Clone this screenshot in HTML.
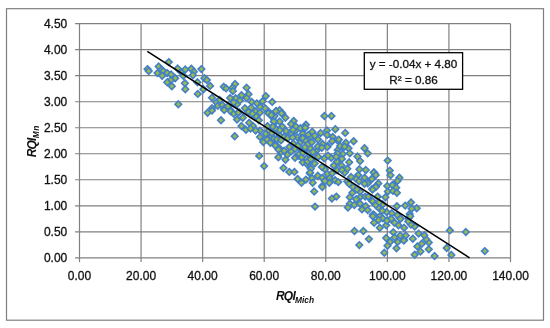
<!DOCTYPE html>
<html><head><meta charset="utf-8"><title>RQI chart</title>
<style>
html,body{margin:0;padding:0;background:#fff;}
body{width:550px;height:328px;overflow:hidden;}
svg{display:block;font-family:"Liberation Sans",sans-serif;}
.lbl{font-size:12px;fill:#111;stroke:#111;stroke-width:0.3px;}
.ttl{font-size:12px;font-weight:bold;font-style:italic;fill:#111;letter-spacing:-0.8px;}
.sub{font-size:8.4px;letter-spacing:0;}
.eq{font-size:11.7px;fill:#111;stroke:#111;stroke-width:0.3px;}
</style></head><body>
<svg width="550" height="328" viewBox="0 0 550 328">
<rect x="0" y="0" width="550" height="328" fill="#ffffff"/>
<rect x="6.5" y="8.7" width="537" height="311.5" fill="none" stroke="#7f7f7f" stroke-width="1.2"/>

<g stroke="#808080" stroke-width="1.2" fill="none">
<line x1="75.10" y1="23.70" x2="510.50" y2="23.70"/>
<line x1="75.10" y1="49.71" x2="510.50" y2="49.71"/>
<line x1="75.10" y1="75.72" x2="510.50" y2="75.72"/>
<line x1="75.10" y1="101.73" x2="510.50" y2="101.73"/>
<line x1="75.10" y1="127.74" x2="510.50" y2="127.74"/>
<line x1="75.10" y1="153.76" x2="510.50" y2="153.76"/>
<line x1="75.10" y1="179.77" x2="510.50" y2="179.77"/>
<line x1="75.10" y1="205.78" x2="510.50" y2="205.78"/>
<line x1="75.10" y1="231.79" x2="510.50" y2="231.79"/>
<line x1="75.10" y1="257.80" x2="510.50" y2="257.80"/>
<line x1="79.50" y1="23.70" x2="79.50" y2="262.10"/>
<line x1="141.07" y1="23.70" x2="141.07" y2="262.10"/>
<line x1="202.64" y1="23.70" x2="202.64" y2="262.10"/>
<line x1="264.21" y1="23.70" x2="264.21" y2="262.10"/>
<line x1="325.79" y1="23.70" x2="325.79" y2="262.10"/>
<line x1="387.36" y1="23.70" x2="387.36" y2="262.10"/>
<line x1="448.93" y1="23.70" x2="448.93" y2="262.10"/>
<line x1="510.50" y1="23.70" x2="510.50" y2="262.10"/>
</g>
<text class="lbl" x="67.3" y="27.90" text-anchor="end">4.50</text>
<text class="lbl" x="67.3" y="53.91" text-anchor="end">4.00</text>
<text class="lbl" x="67.3" y="79.92" text-anchor="end">3.50</text>
<text class="lbl" x="67.3" y="105.93" text-anchor="end">3.00</text>
<text class="lbl" x="67.3" y="131.94" text-anchor="end">2.50</text>
<text class="lbl" x="67.3" y="157.96" text-anchor="end">2.00</text>
<text class="lbl" x="67.3" y="183.97" text-anchor="end">1.50</text>
<text class="lbl" x="67.3" y="209.98" text-anchor="end">1.00</text>
<text class="lbl" x="67.3" y="235.99" text-anchor="end">0.50</text>
<text class="lbl" x="67.3" y="262.00" text-anchor="end">0.00</text>
<text class="lbl" x="79.50" y="279.6" text-anchor="middle">0.00</text>
<text class="lbl" x="141.07" y="279.6" text-anchor="middle">20.00</text>
<text class="lbl" x="202.64" y="279.6" text-anchor="middle">40.00</text>
<text class="lbl" x="264.21" y="279.6" text-anchor="middle">60.00</text>
<text class="lbl" x="325.79" y="279.6" text-anchor="middle">80.00</text>
<text class="lbl" x="387.36" y="279.6" text-anchor="middle">100.00</text>
<text class="lbl" x="448.93" y="279.6" text-anchor="middle">120.00</text>
<text class="lbl" x="510.50" y="279.6" text-anchor="middle">140.00</text>
<defs><path id="m" d="M0,-3.3L3.3,0L0,3.3L-3.3,0Z"/></defs>
<g fill="#96bb4e" stroke="#437fc6" stroke-width="1.6">
<use href="#m" x="147.5" y="69.1"/>
<use href="#m" x="148.7" y="71.1"/>
<use href="#m" x="158.7" y="66.5"/>
<use href="#m" x="157.5" y="73.1"/>
<use href="#m" x="161.6" y="69.5"/>
<use href="#m" x="163.2" y="71.1"/>
<use href="#m" x="162.2" y="75.8"/>
<use href="#m" x="168.8" y="62.1"/>
<use href="#m" x="167.2" y="73.1"/>
<use href="#m" x="171.2" y="74.5"/>
<use href="#m" x="175.2" y="78.2"/>
<use href="#m" x="170.8" y="80.2"/>
<use href="#m" x="167.2" y="82.2"/>
<use href="#m" x="171.8" y="86.2"/>
<use href="#m" x="177.7" y="68.5"/>
<use href="#m" x="181.7" y="72.5"/>
<use href="#m" x="183.3" y="75.8"/>
<use href="#m" x="185.3" y="69.5"/>
<use href="#m" x="191.3" y="68.7"/>
<use href="#m" x="193.8" y="71.7"/>
<use href="#m" x="192.9" y="75.2"/>
<use href="#m" x="201.4" y="69.1"/>
<use href="#m" x="184.9" y="83.2"/>
<use href="#m" x="185.3" y="89.2"/>
<use href="#m" x="197.4" y="82.2"/>
<use href="#m" x="197.8" y="93.9"/>
<use href="#m" x="204.4" y="78.2"/>
<use href="#m" x="178.3" y="104.3"/>
<use href="#m" x="206.9" y="80.1"/>
<use href="#m" x="210.1" y="85.9"/>
<use href="#m" x="223.8" y="86.8"/>
<use href="#m" x="226.1" y="88.4"/>
<use href="#m" x="235.1" y="84.0"/>
<use href="#m" x="232.5" y="87.8"/>
<use href="#m" x="232.9" y="91.0"/>
<use href="#m" x="246.6" y="87.8"/>
<use href="#m" x="241.5" y="95.2"/>
<use href="#m" x="248.5" y="94.2"/>
<use href="#m" x="246.6" y="98.0"/>
<use href="#m" x="235.7" y="98.3"/>
<use href="#m" x="230.2" y="98.0"/>
<use href="#m" x="212.0" y="97.8"/>
<use href="#m" x="203.4" y="89.2"/>
<use href="#m" x="216.5" y="102.5"/>
<use href="#m" x="217.8" y="105.7"/>
<use href="#m" x="212.0" y="108.3"/>
<use href="#m" x="207.6" y="112.8"/>
<use href="#m" x="222.3" y="105.1"/>
<use href="#m" x="224.0" y="108.9"/>
<use href="#m" x="230.0" y="109.6"/>
<use href="#m" x="237.0" y="104.2"/>
<use href="#m" x="239.0" y="112.1"/>
<use href="#m" x="245.0" y="108.3"/>
<use href="#m" x="248.5" y="111.5"/>
<use href="#m" x="251.1" y="107.7"/>
<use href="#m" x="251.7" y="101.9"/>
<use href="#m" x="256.9" y="103.4"/>
<use href="#m" x="260.1" y="107.0"/>
<use href="#m" x="262.6" y="101.2"/>
<use href="#m" x="265.8" y="96.1"/>
<use href="#m" x="265.2" y="108.3"/>
<use href="#m" x="272.2" y="101.9"/>
<use href="#m" x="255.6" y="111.5"/>
<use href="#m" x="269.0" y="112.1"/>
<use href="#m" x="212.0" y="110.6"/>
<use href="#m" x="221.0" y="120.2"/>
<use href="#m" x="234.7" y="136.2"/>
<use href="#m" x="224.2" y="110.0"/>
<use href="#m" x="230.6" y="111.3"/>
<use href="#m" x="233.8" y="113.8"/>
<use href="#m" x="238.3" y="112.6"/>
<use href="#m" x="242.8" y="117.7"/>
<use href="#m" x="237.0" y="119.6"/>
<use href="#m" x="241.5" y="126.0"/>
<use href="#m" x="246.0" y="129.8"/>
<use href="#m" x="249.2" y="122.8"/>
<use href="#m" x="253.0" y="126.0"/>
<use href="#m" x="250.5" y="128.6"/>
<use href="#m" x="256.2" y="116.4"/>
<use href="#m" x="258.8" y="120.2"/>
<use href="#m" x="248.5" y="111.9"/>
<use href="#m" x="252.4" y="113.8"/>
<use href="#m" x="260.0" y="112.6"/>
<use href="#m" x="268.4" y="113.2"/>
<use href="#m" x="272.9" y="117.7"/>
<use href="#m" x="274.8" y="122.2"/>
<use href="#m" x="260.0" y="130.5"/>
<use href="#m" x="265.8" y="133.7"/>
<use href="#m" x="260.0" y="136.9"/>
<use href="#m" x="263.3" y="142.0"/>
<use href="#m" x="267.1" y="139.5"/>
<use href="#m" x="271.6" y="136.2"/>
<use href="#m" x="272.9" y="141.4"/>
<use href="#m" x="274.8" y="144.6"/>
<use href="#m" x="269.0" y="130.5"/>
<use href="#m" x="255.6" y="130.5"/>
<use href="#m" x="276.4" y="111.1"/>
<use href="#m" x="279.6" y="110.2"/>
<use href="#m" x="282.2" y="113.2"/>
<use href="#m" x="274.5" y="116.0"/>
<use href="#m" x="324.4" y="116.0"/>
<use href="#m" x="331.5" y="116.0"/>
<use href="#m" x="275.8" y="111.3"/>
<use href="#m" x="281.5" y="113.2"/>
<use href="#m" x="285.4" y="117.7"/>
<use href="#m" x="293.7" y="120.9"/>
<use href="#m" x="291.1" y="124.1"/>
<use href="#m" x="305.9" y="124.7"/>
<use href="#m" x="304.6" y="128.6"/>
<use href="#m" x="312.3" y="131.8"/>
<use href="#m" x="320.6" y="133.0"/>
<use href="#m" x="327.0" y="130.5"/>
<use href="#m" x="335.3" y="129.2"/>
<use href="#m" x="332.7" y="136.9"/>
<use href="#m" x="337.9" y="140.7"/>
<use href="#m" x="327.6" y="145.9"/>
<use href="#m" x="322.5" y="143.9"/>
<use href="#m" x="318.0" y="139.4"/>
<use href="#m" x="311.0" y="137.5"/>
<use href="#m" x="309.7" y="148.4"/>
<use href="#m" x="300.7" y="142.0"/>
<use href="#m" x="297.5" y="137.5"/>
<use href="#m" x="302.7" y="133.7"/>
<use href="#m" x="295.6" y="130.5"/>
<use href="#m" x="291.8" y="133.7"/>
<use href="#m" x="286.0" y="131.1"/>
<use href="#m" x="282.2" y="126.6"/>
<use href="#m" x="279.6" y="121.5"/>
<use href="#m" x="273.8" y="121.5"/>
<use href="#m" x="276.4" y="129.2"/>
<use href="#m" x="271.9" y="133.0"/>
<use href="#m" x="279.6" y="135.0"/>
<use href="#m" x="284.1" y="136.9"/>
<use href="#m" x="273.8" y="138.8"/>
<use href="#m" x="275.1" y="143.9"/>
<use href="#m" x="279.6" y="148.4"/>
<use href="#m" x="271.3" y="115.1"/>
<use href="#m" x="272.6" y="126.6"/>
<use href="#m" x="259.2" y="155.9"/>
<use href="#m" x="264.1" y="166.1"/>
<use href="#m" x="278.4" y="157.2"/>
<use href="#m" x="285.5" y="159.7"/>
<use href="#m" x="283.5" y="168.0"/>
<use href="#m" x="289.3" y="171.9"/>
<use href="#m" x="294.4" y="171.9"/>
<use href="#m" x="297.6" y="178.9"/>
<use href="#m" x="301.5" y="182.8"/>
<use href="#m" x="305.9" y="179.6"/>
<use href="#m" x="309.8" y="173.2"/>
<use href="#m" x="302.7" y="162.3"/>
<use href="#m" x="307.2" y="164.2"/>
<use href="#m" x="295.1" y="157.8"/>
<use href="#m" x="298.9" y="155.9"/>
<use href="#m" x="287.4" y="154.6"/>
<use href="#m" x="281.0" y="152.0"/>
<use href="#m" x="278.4" y="149.5"/>
<use href="#m" x="275.2" y="145.6"/>
<use href="#m" x="284.2" y="150.8"/>
<use href="#m" x="291.2" y="151.4"/>
<use href="#m" x="289.3" y="146.9"/>
<use href="#m" x="295.1" y="148.8"/>
<use href="#m" x="306.6" y="147.6"/>
<use href="#m" x="309.8" y="152.0"/>
<use href="#m" x="306.6" y="158.4"/>
<use href="#m" x="310.1" y="148.2"/>
<use href="#m" x="317.2" y="150.1"/>
<use href="#m" x="307.6" y="161.6"/>
<use href="#m" x="314.6" y="163.6"/>
<use href="#m" x="310.8" y="168.7"/>
<use href="#m" x="310.1" y="172.5"/>
<use href="#m" x="317.8" y="175.7"/>
<use href="#m" x="312.0" y="178.3"/>
<use href="#m" x="312.7" y="182.8"/>
<use href="#m" x="322.3" y="177.7"/>
<use href="#m" x="329.3" y="177.7"/>
<use href="#m" x="335.1" y="180.2"/>
<use href="#m" x="329.3" y="182.8"/>
<use href="#m" x="322.3" y="186.0"/>
<use href="#m" x="327.4" y="173.8"/>
<use href="#m" x="324.8" y="169.3"/>
<use href="#m" x="333.8" y="165.5"/>
<use href="#m" x="324.2" y="158.4"/>
<use href="#m" x="331.2" y="157.8"/>
<use href="#m" x="327.4" y="146.9"/>
<use href="#m" x="337.7" y="150.1"/>
<use href="#m" x="342.8" y="154.0"/>
<use href="#m" x="343.4" y="147.6"/>
<use href="#m" x="348.5" y="148.2"/>
<use href="#m" x="349.8" y="153.3"/>
<use href="#m" x="341.5" y="165.5"/>
<use href="#m" x="349.2" y="162.3"/>
<use href="#m" x="347.3" y="168.7"/>
<use href="#m" x="344.7" y="172.5"/>
<use href="#m" x="357.5" y="156.5"/>
<use href="#m" x="360.1" y="161.0"/>
<use href="#m" x="364.5" y="148.2"/>
<use href="#m" x="367.7" y="153.3"/>
<use href="#m" x="359.4" y="169.3"/>
<use href="#m" x="365.8" y="170.0"/>
<use href="#m" x="374.1" y="172.5"/>
<use href="#m" x="358.1" y="175.1"/>
<use href="#m" x="351.1" y="177.0"/>
<use href="#m" x="356.2" y="178.9"/>
<use href="#m" x="364.5" y="177.7"/>
<use href="#m" x="371.6" y="178.9"/>
<use href="#m" x="347.3" y="181.5"/>
<use href="#m" x="367.7" y="183.4"/>
<use href="#m" x="337.0" y="161.6"/>
<use href="#m" x="338.3" y="182.1"/>
<use href="#m" x="345.2" y="132.9"/>
<use href="#m" x="338.8" y="139.6"/>
<use href="#m" x="345.9" y="142.8"/>
<use href="#m" x="353.6" y="141.2"/>
<use href="#m" x="340.1" y="146.0"/>
<use href="#m" x="344.6" y="146.6"/>
<use href="#m" x="314.2" y="191.5"/>
<use href="#m" x="315.0" y="206.6"/>
<use href="#m" x="331.9" y="198.6"/>
<use href="#m" x="336.4" y="196.6"/>
<use href="#m" x="322.3" y="187.0"/>
<use href="#m" x="352.4" y="192.8"/>
<use href="#m" x="349.8" y="197.3"/>
<use href="#m" x="356.2" y="199.2"/>
<use href="#m" x="349.8" y="203.7"/>
<use href="#m" x="347.9" y="207.5"/>
<use href="#m" x="354.3" y="205.0"/>
<use href="#m" x="360.1" y="203.7"/>
<use href="#m" x="362.0" y="209.4"/>
<use href="#m" x="365.8" y="206.2"/>
<use href="#m" x="367.7" y="210.1"/>
<use href="#m" x="372.9" y="214.6"/>
<use href="#m" x="360.7" y="196.6"/>
<use href="#m" x="365.2" y="196.6"/>
<use href="#m" x="360.1" y="191.5"/>
<use href="#m" x="368.4" y="196.6"/>
<use href="#m" x="371.6" y="200.5"/>
<use href="#m" x="353.0" y="187.0"/>
<use href="#m" x="349.2" y="183.8"/>
<use href="#m" x="364.5" y="183.8"/>
<use href="#m" x="372.2" y="189.0"/>
<use href="#m" x="387.7" y="160.6"/>
<use href="#m" x="389.8" y="170.6"/>
<use href="#m" x="390.5" y="175.3"/>
<use href="#m" x="399.4" y="177.7"/>
<use href="#m" x="397.5" y="180.9"/>
<use href="#m" x="373.8" y="172.5"/>
<use href="#m" x="375.8" y="175.1"/>
<use href="#m" x="371.9" y="178.9"/>
<use href="#m" x="378.3" y="183.4"/>
<use href="#m" x="387.3" y="186.0"/>
<use href="#m" x="393.0" y="184.7"/>
<use href="#m" x="375.8" y="186.2"/>
<use href="#m" x="375.8" y="187.0"/>
<use href="#m" x="372.6" y="189.6"/>
<use href="#m" x="392.4" y="185.1"/>
<use href="#m" x="396.2" y="187.7"/>
<use href="#m" x="387.9" y="191.5"/>
<use href="#m" x="393.0" y="190.9"/>
<use href="#m" x="396.9" y="192.8"/>
<use href="#m" x="385.4" y="197.3"/>
<use href="#m" x="377.7" y="196.6"/>
<use href="#m" x="372.6" y="201.1"/>
<use href="#m" x="396.9" y="206.2"/>
<use href="#m" x="405.2" y="205.6"/>
<use href="#m" x="411.0" y="202.4"/>
<use href="#m" x="416.7" y="208.2"/>
<use href="#m" x="411.6" y="208.8"/>
<use href="#m" x="409.7" y="213.9"/>
<use href="#m" x="408.4" y="218.4"/>
<use href="#m" x="400.7" y="218.4"/>
<use href="#m" x="397.5" y="215.2"/>
<use href="#m" x="378.3" y="207.5"/>
<use href="#m" x="386.6" y="212.0"/>
<use href="#m" x="382.2" y="210.7"/>
<use href="#m" x="373.8" y="214.6"/>
<use href="#m" x="379.6" y="216.5"/>
<use href="#m" x="390.5" y="219.1"/>
<use href="#m" x="382.8" y="218.4"/>
<use href="#m" x="391.8" y="213.3"/>
<use href="#m" x="375.8" y="205.0"/>
<use href="#m" x="382.8" y="204.3"/>
<use href="#m" x="354.5" y="231.0"/>
<use href="#m" x="363.4" y="231.0"/>
<use href="#m" x="368.9" y="239.1"/>
<use href="#m" x="359.3" y="245.1"/>
<use href="#m" x="374.1" y="222.7"/>
<use href="#m" x="378.5" y="220.1"/>
<use href="#m" x="372.8" y="216.3"/>
<use href="#m" x="379.8" y="227.8"/>
<use href="#m" x="386.2" y="225.2"/>
<use href="#m" x="386.2" y="238.0"/>
<use href="#m" x="390.1" y="241.9"/>
<use href="#m" x="387.5" y="245.7"/>
<use href="#m" x="384.3" y="252.8"/>
<use href="#m" x="396.5" y="248.3"/>
<use href="#m" x="397.7" y="241.9"/>
<use href="#m" x="393.3" y="232.3"/>
<use href="#m" x="400.3" y="235.5"/>
<use href="#m" x="394.5" y="237.4"/>
<use href="#m" x="404.1" y="240.0"/>
<use href="#m" x="398.4" y="225.2"/>
<use href="#m" x="394.5" y="222.7"/>
<use href="#m" x="391.3" y="218.8"/>
<use href="#m" x="400.3" y="218.8"/>
<use href="#m" x="386.9" y="220.8"/>
<use href="#m" x="404.1" y="227.8"/>
<use href="#m" x="449.9" y="230.4"/>
<use href="#m" x="465.9" y="232.0"/>
<use href="#m" x="446.7" y="248.0"/>
<use href="#m" x="434.6" y="256.0"/>
<use href="#m" x="428.8" y="249.3"/>
<use href="#m" x="428.8" y="242.5"/>
<use href="#m" x="426.2" y="239.3"/>
<use href="#m" x="424.3" y="235.2"/>
<use href="#m" x="418.6" y="233.6"/>
<use href="#m" x="421.8" y="243.8"/>
<use href="#m" x="417.3" y="246.4"/>
<use href="#m" x="420.5" y="251.5"/>
<use href="#m" x="414.7" y="254.7"/>
<use href="#m" x="412.8" y="238.7"/>
<use href="#m" x="405.8" y="235.5"/>
<use href="#m" x="403.8" y="240.6"/>
<use href="#m" x="414.7" y="226.5"/>
<use href="#m" x="410.9" y="224.6"/>
<use href="#m" x="408.3" y="221.4"/>
<use href="#m" x="410.2" y="216.3"/>
<use href="#m" x="484.8" y="251.1"/>
<use href="#m" x="219.8" y="100.0"/>
<use href="#m" x="228.0" y="106.2"/>
<use href="#m" x="233.7" y="102.5"/>
<use href="#m" x="239.9" y="100.4"/>
<use href="#m" x="295.9" y="126.5"/>
<use href="#m" x="300.4" y="128.2"/>
<use href="#m" x="293.0" y="129.8"/>
<use href="#m" x="279.8" y="130.2"/>
<use href="#m" x="267.5" y="126.1"/>
<use href="#m" x="305.2" y="127.8"/>
<use href="#m" x="308.2" y="134.9"/>
<use href="#m" x="304.9" y="139.0"/>
<use href="#m" x="314.8" y="135.7"/>
<use href="#m" x="327.2" y="134.9"/>
<use href="#m" x="301.6" y="138.2"/>
<use href="#m" x="276.9" y="139.5"/>
<use href="#m" x="281.0" y="140.3"/>
<use href="#m" x="287.6" y="138.2"/>
<use href="#m" x="292.6" y="137.5"/>
<use href="#m" x="302.9" y="138.2"/>
<use href="#m" x="307.8" y="139.9"/>
<use href="#m" x="270.3" y="142.8"/>
<use href="#m" x="293.4" y="143.6"/>
<use href="#m" x="297.9" y="146.0"/>
<use href="#m" x="302.0" y="150.6"/>
<use href="#m" x="299.2" y="153.9"/>
<use href="#m" x="306.2" y="141.0"/>
<use href="#m" x="308.2" y="144.0"/>
<use href="#m" x="304.9" y="147.3"/>
<use href="#m" x="317.7" y="146.5"/>
<use href="#m" x="321.8" y="147.8"/>
<use href="#m" x="332.1" y="141.2"/>
<use href="#m" x="337.4" y="153.5"/>
<use href="#m" x="313.6" y="155.2"/>
<use href="#m" x="318.1" y="156.8"/>
<use href="#m" x="328.0" y="155.6"/>
<use href="#m" x="310.7" y="159.3"/>
<use href="#m" x="301.6" y="157.2"/>
<use href="#m" x="336.2" y="156.8"/>
<use href="#m" x="342.0" y="158.9"/>
<use href="#m" x="313.0" y="152.0"/>
<use href="#m" x="303.0" y="152.5"/>
<use href="#m" x="321.9" y="167.0"/>
<use href="#m" x="337.1" y="170.3"/>
<use href="#m" x="332.2" y="173.2"/>
<use href="#m" x="342.0" y="169.9"/>
<use href="#m" x="324.8" y="181.0"/>
<use href="#m" x="359.0" y="181.3"/>
<use href="#m" x="379.2" y="202.3"/>
<use href="#m" x="357.0" y="189.5"/>
<use href="#m" x="311.8" y="142.2"/>
<use href="#m" x="451.4" y="254.9"/>
</g>
<line x1="147.3" y1="51.4" x2="469.6" y2="257.8" stroke="#000" stroke-width="1.5"/>
<rect x="364.3" y="52.7" width="98.3" height="36.6" fill="#fff" stroke="#000" stroke-width="1.3"/>
<text class="eq" x="413.5" y="68" text-anchor="middle">y = -0.04x + 4.80</text>
<text class="eq" x="413.5" y="83.5" text-anchor="middle">R² = 0.86</text>
<text class="ttl" x="276" y="299.7">RQI<tspan class="sub" dy="3.2">Mich</tspan></text>
<text class="ttl" transform="translate(36.1,157.3) rotate(-90)">RQI<tspan class="sub" dy="3.2" style="letter-spacing:0.7px">Mn</tspan></text>
</svg></body></html>
